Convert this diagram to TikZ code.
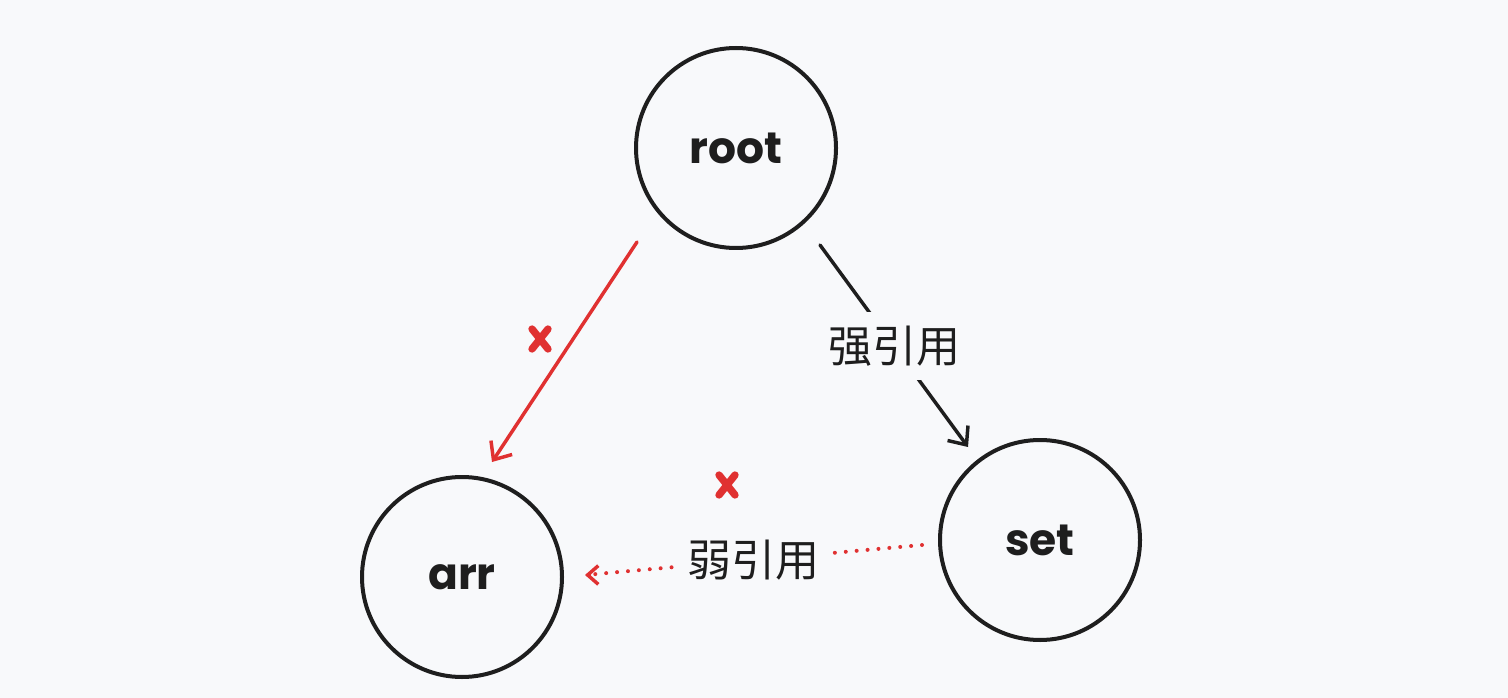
\documentclass[tikz,border=0pt]{standalone}
\usepackage{fontspec}
\setmainfont{Poppins}
\newfontfamily\cjk{Noto Sans CJK SC}
\usetikzlibrary{arrows.meta,calc}
\definecolor{bg}{HTML}{F8F9FB}
\definecolor{ink}{HTML}{1E1E1E}
\definecolor{redx}{HTML}{E03131}
\tikzset{
  ball/.style={circle, draw=ink, line width=3pt, minimum size={200*0.75pt}, inner sep=0pt,
    text=ink, font=\fontsize{33}{33}\selectfont\bfseries},
  conn/.style={line width=2.6pt, line cap=round, -{Straight Barb[length=11pt, width=19pt, line width=2.6pt]}},
  lbl/.style={fill=bg, text=ink, font=\cjk\fontsize{33}{33}\selectfont, inner xsep=10pt, inner ysep=10pt},
  cross/.style={redx, line width=5.5pt, line cap=round},
  dots/.style={line width=3pt, line cap=round, dash pattern=on 0pt off 8.2pt}
}
\begin{document}
\begin{tikzpicture}[x=0.75pt, y=-0.75pt]
\fill[bg] (0,0) rectangle (1508,698);
\useasboundingbox (0,0) rectangle (1508,698);
\node[ball] (root) at (736,148) {root};
\node[ball] (arr) at (462,577) {arr};
\node[ball] (set) at (1040,540) {set};
% connector endpoints
\coordinate (r1) at (637,242);
\coordinate (a1) at (492,462);
\coordinate (r2) at (820,245);
\coordinate (s1) at (968,447);
\coordinate (s2) at (922,545);
\coordinate (a2) at (585,575);
\draw[conn, redx] (r1) -- (a1);
\draw[conn, ink] (r2) -- node[lbl] (strong) {强引用} (s1);
\draw[redx, dots] (s2) -- node[lbl, inner xsep=8pt] (weak) {弱引用} (a2);
\draw[redx, line width=2.6pt, line cap=round, -{Straight Barb[length=8pt, width=14pt, line width=2.6pt]}]
  ($(a2)+(3,0)$) -- (a2);
% crosses
\coordinate (x1) at (540,339);
\coordinate (x2) at (727,485);
\draw[cross] ($(x1)+(-8,-10)$) -- ($(x1)+(8,10)$);
\draw[cross] ($(x1)+(8,-10)$) -- ($(x1)+(-8,10)$);
\draw[cross] ($(x2)+(-8,-10)$) -- ($(x2)+(8,10)$);
\draw[cross] ($(x2)+(8,-10)$) -- ($(x2)+(-8,10)$);
\end{tikzpicture}
\end{document}
